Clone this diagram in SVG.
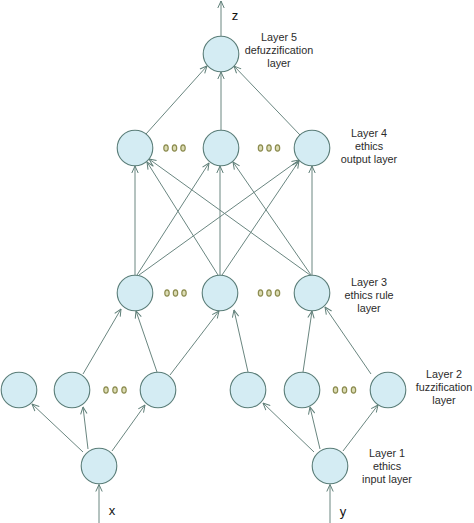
<svg xmlns="http://www.w3.org/2000/svg" width="474" height="523" viewBox="0 0 474 523">
<defs>
<marker id="arr" viewBox="0 0 8 8" refX="7.5" refY="4" markerWidth="8" markerHeight="8" markerUnits="userSpaceOnUse" orient="auto">
<path d="M0.5,0.8 L7.5,4 L0.5,7.2" fill="none" stroke="#5f7f78" stroke-width="1"/>
</marker>
</defs>
<style>
.n{fill:#d4ecf3;stroke:#5a7d78;stroke-width:1.1}
.c line{stroke:#6a8680;stroke-width:1;marker-end:url(#arr)}
.d ellipse{fill:#dcdcb4;stroke:#8c8c50;stroke-width:1.2}
.lbl{font-family:"Liberation Sans",Arial,sans-serif;font-size:10.8px;fill:#2b2b2b;text-anchor:middle}
.io{font-family:"Liberation Sans",Arial,sans-serif;font-size:13px;fill:#111;text-anchor:middle}
</style>
<rect width="474" height="523" fill="#ffffff"/>
<g id="connectors" class="c">
<!-- inputs / output -->
<line x1="99" y1="523" x2="99" y2="484.5"/>
<line x1="330" y1="523" x2="330" y2="484.5"/>
<line x1="221" y1="36" x2="221" y2="1"/>
<!-- L1 -> L2 -->
<line x1="83" y1="452" x2="32" y2="404"/>
<line x1="88" y1="449" x2="83" y2="407"/>
<line x1="112" y1="451" x2="145" y2="405"/>
<line x1="314" y1="452" x2="263" y2="403"/>
<line x1="320" y1="449" x2="310" y2="407"/>
<line x1="343" y1="451" x2="378" y2="405"/>
<!-- L2 -> L3 -->
<line x1="83" y1="374" x2="121" y2="309"/>
<line x1="157" y1="372" x2="136" y2="311"/>
<line x1="170" y1="375" x2="219" y2="311"/>
<line x1="248" y1="372" x2="234" y2="310"/>
<line x1="303" y1="372" x2="312" y2="311"/>
<line x1="371" y1="374" x2="325" y2="307"/>
<!-- L3 -> L4 -->
<line x1="135" y1="275" x2="135" y2="166"/>
<line x1="137" y1="275" x2="209" y2="163"/>
<line x1="139" y1="275" x2="299" y2="160"/>
<line x1="218" y1="275" x2="147" y2="162"/>
<line x1="220" y1="275" x2="220" y2="166"/>
<line x1="222" y1="275" x2="299" y2="161"/>
<line x1="310" y1="275" x2="149" y2="159"/>
<line x1="312" y1="275" x2="312" y2="166"/>
<line x1="311" y1="275" x2="233" y2="162"/>
<!-- L4 -> L5 -->
<line x1="146" y1="134" x2="207" y2="66"/>
<line x1="221" y1="130" x2="221" y2="72"/>
<line x1="300" y1="135" x2="234" y2="66"/>
</g>
<g id="layer5"><circle id="n5" class="n" cx="221" cy="54" r="17.8"/></g>
<g id="layer4">
<circle id="n4a" class="n" cx="135" cy="148" r="17.8"/>
<circle id="n4b" class="n" cx="221" cy="148" r="17.8"/>
<circle id="n4c" class="n" cx="312" cy="148" r="17.8"/>
</g>
<g id="layer3">
<circle id="n3a" class="n" cx="135" cy="293" r="17.8"/>
<circle id="n3b" class="n" cx="220" cy="293" r="17.8"/>
<circle id="n3c" class="n" cx="312" cy="293" r="17.8"/>
</g>
<g id="layer2">
<circle id="n2a" class="n" cx="19" cy="390" r="17.8"/>
<circle id="n2b" class="n" cx="72" cy="390" r="17.8"/>
<circle id="n2c" class="n" cx="158" cy="390" r="17.8"/>
<circle id="n2d" class="n" cx="248" cy="390" r="17.8"/>
<circle id="n2e" class="n" cx="302" cy="390" r="17.8"/>
<circle id="n2f" class="n" cx="388" cy="390" r="17.8"/>
</g>
<g id="layer1">
<circle id="n1a" class="n" cx="99" cy="466" r="17.8"/>
<circle id="n1b" class="n" cx="330" cy="466" r="17.8"/>
</g>
<g id="dots" class="d">
<ellipse cx="166" cy="148" rx="2.2" ry="3.2"/><ellipse cx="174.5" cy="148" rx="2.2" ry="3.2"/><ellipse cx="183" cy="148" rx="2.2" ry="3.2"/>
<ellipse cx="260.5" cy="148" rx="2.2" ry="3.2"/><ellipse cx="269" cy="148" rx="2.2" ry="3.2"/><ellipse cx="277.5" cy="148" rx="2.2" ry="3.2"/>
<ellipse cx="167" cy="293" rx="2.2" ry="3.2"/><ellipse cx="175.5" cy="293" rx="2.2" ry="3.2"/><ellipse cx="184" cy="293" rx="2.2" ry="3.2"/>
<ellipse cx="260.5" cy="293" rx="2.2" ry="3.2"/><ellipse cx="269" cy="293" rx="2.2" ry="3.2"/><ellipse cx="277.5" cy="293" rx="2.2" ry="3.2"/>
<ellipse cx="106" cy="390" rx="2.2" ry="3.2"/><ellipse cx="115" cy="390" rx="2.2" ry="3.2"/><ellipse cx="124" cy="390" rx="2.2" ry="3.2"/>
<ellipse cx="335.5" cy="390" rx="2.2" ry="3.2"/><ellipse cx="344.5" cy="390" rx="2.2" ry="3.2"/><ellipse cx="353.5" cy="390" rx="2.2" ry="3.2"/>
</g>
<g id="labels">
<text class="lbl" x="279" y="41">Layer 5</text>
<text class="lbl" x="279" y="54">defuzzification</text>
<text class="lbl" x="279" y="67">layer</text>
<text class="lbl" x="369" y="137">Layer 4</text>
<text class="lbl" x="369" y="150">ethics</text>
<text class="lbl" x="369" y="163">output layer</text>
<text class="lbl" x="369" y="286">Layer 3</text>
<text class="lbl" x="369" y="299">ethics rule</text>
<text class="lbl" x="369" y="312">layer</text>
<text class="lbl" x="444" y="378">Layer 2</text>
<text class="lbl" x="444" y="391">fuzzification</text>
<text class="lbl" x="444" y="404">layer</text>
<text class="lbl" x="387" y="457">Layer 1</text>
<text class="lbl" x="387" y="470">ethics</text>
<text class="lbl" x="387" y="483">input layer</text>
<text class="io" x="235" y="20">z</text>
<text class="io" x="112" y="515">x</text>
<text class="io" x="343" y="516">y</text>
</g>
</svg>
